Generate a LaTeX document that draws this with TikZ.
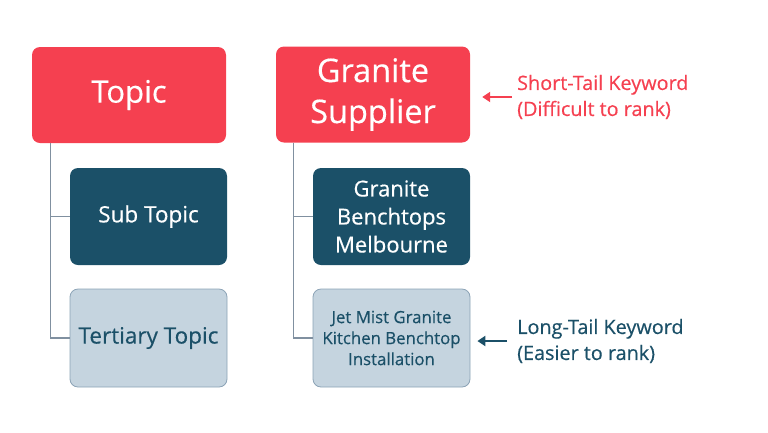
\documentclass[tikz,border=0pt]{standalone}
\usepackage{fontspec}
\setmainfont{Open Sans}[FakeBold=0.4]
\usetikzlibrary{arrows.meta}
\definecolor{topred}{RGB}{245,64,80}
\definecolor{subteal}{RGB}{27,80,104}
\definecolor{tertfill}{RGB}{197,212,223}
\definecolor{tertedge}{RGB}{140,163,182}
\definecolor{linegray}{RGB}{128,144,160}
\tikzset{
  topbox/.style={fill=topred, rounded corners=8pt, text=white, align=center,
    minimum width=194pt, minimum height=96pt, inner sep=0pt},
  subbox/.style={fill=subteal, rounded corners=8pt, text=white, align=center,
    minimum width=157pt, minimum height=97pt, inner sep=0pt},
  tertbox/.style={fill=tertfill, draw=tertedge, line width=0.8pt, rounded corners=8pt,
    text=subteal, align=center, minimum width=157pt, minimum height=98pt, inner sep=0pt},
  conn/.style={draw=linegray, line width=1.1pt},
  keytext/.style={anchor=west, align=left, inner sep=0pt, font=\fontsize{19.8}{26}\selectfont}
}
\begin{document}
\begin{tikzpicture}[x=1pt, y=-1pt]
      \useasboundingbox (0, 0) rectangle (768, 432);
      % left hierarchy
      \node[topbox, font=\fontsize{31}{38}\selectfont] (topic) at (129, 95) {Topic};
      \node[subbox, font=\fontsize{22.5}{27}\selectfont] (sub) at (148.5, 216.5) {Sub Topic};
      \node[tertbox, font=\fontsize{22.5}{27}\selectfont] (tert) at (148.5, 338) {Tertiary Topic};
      \draw[conn] (topic.south west) ++(19, 0) |- (sub.west);
      \draw[conn] (topic.south west) ++(19, 0) |- (tert.west);
      % right hierarchy
      \node[topbox, font=\fontsize{32.5}{41}\selectfont] (supplier) at (373, 94.5) {Granite\\Supplier};
      \node[subbox, font=\fontsize{22}{28}\selectfont] (bench) at (391.5, 216.5) {Granite\\Benchtops\\Melbourne};
      \node[tertbox, font=\fontsize{16.8}{21}\selectfont] (jetmist) at (391.5, 338) {Jet Mist Granite\\Kitchen Benchtop\\Installation};
      \draw[conn] (supplier.south west) ++(18, 0) |- (bench.west);
      \draw[conn] (supplier.south west) ++(18, 0) |- (jetmist.west);
      % keyword notes
      \node[keytext, text=topred] (short) at (517, 97) {Short-Tail Keyword\\(Difficult to rank)};
      \node[keytext, text=subteal] (long) at (517, 341) {Long-Tail Keyword\\(Easier to rank)};
      \draw[topred, line width=2.5pt, -{Triangle[length=8pt, width=10pt]}] ([xshift=-5]short.west) -- ([xshift=12]short.west -| supplier.east);
      \draw[subteal, line width=2.5pt, -{Triangle[length=8pt, width=10pt]}] ([xshift=-10]long.west) -- ([xshift=7]long.west -| jetmist.east);
    \end{tikzpicture}
\end{document}
